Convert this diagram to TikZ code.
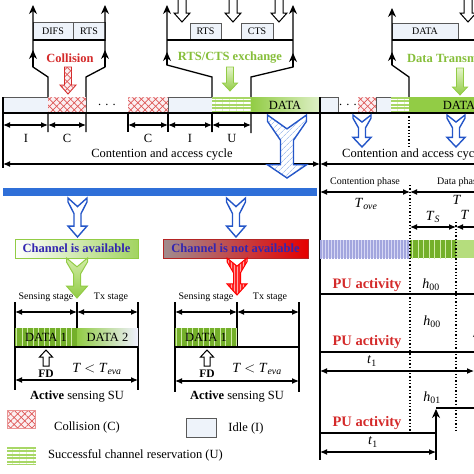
\documentclass[tikz,border=0pt]{standalone}
\usepackage{fontspec}
\setmainfont{Liberation Serif}
\usetikzlibrary{arrows.meta,patterns.meta}
\definecolor{grn}{HTML}{92CC45}
\definecolor{dgrn}{HTML}{74B02A}
\definecolor{lgrn}{HTML}{D2ECA8}
\definecolor{ugrn}{HTML}{A8D766}
\definecolor{tgrn}{HTML}{86BE3A}
\definecolor{idle}{HTML}{EEF3FA}
\definecolor{cred}{HTML}{D42A2A}
\definecolor{pinkbg}{HTML}{FBEFF1}
\definecolor{bblue}{HTML}{2F6FD8}
\definecolor{aoutl}{HTML}{2456C8}
\definecolor{chtext}{HTML}{3326B0}
\definecolor{lavL}{HTML}{D6D8F4}
\definecolor{lavD}{HTML}{A2A6DE}
\definecolor{nagray}{HTML}{A08C8E}
\newcommand\myfs[1]{\fontsize{#1}{#1}\selectfont}
\newcommand\mvar[2]{\textit{#1}\textsubscript{\textit{#2}}}
% chevron arrow: x, ytop, width, height, shaft width, head start fraction, style
\newcommand\chevar[7]{%
  \draw[#7] ({#1-#3/2},{#2}) -- ({#1},{#2+0.22*#4}) -- ({#1+#3/2},{#2}) -- ({#1+#3/2},{#2+0.1*#4})
  -- ({#1+#5/2},{#2+0.4*#4}) -- ({#1+#5/2},{#2+#6*#4}) -- ({#1+#3/2},{#2+#6*#4}) -- ({#1},{#2+#4})
  -- ({#1-#3/2},{#2+#6*#4}) -- ({#1-#5/2},{#2+#6*#4}) -- ({#1-#5/2},{#2+0.4*#4}) -- ({#1-#3/2},{#2+0.1*#4}) -- cycle;}
% simple arrow: x, ytail, ytip, head width, shaft width, head length (signed), style
\newcommand\sarr[7]{%
  \draw[#7] ({#1-#5/2},{#2}) -- ({#1-#5/2},{#3-#6}) -- ({#1-#4/2},{#3-#6}) -- ({#1},{#3})
  -- ({#1+#4/2},{#3-#6}) -- ({#1+#5/2},{#3-#6}) -- ({#1+#5/2},{#2}) -- cycle;}
\begin{document}
\begin{tikzpicture}[x=1pt,y=-1pt,
  line/.style={line width=1.3pt},
  dimarr/.style={line width=1.1pt,{Latex[length=7pt,width=6pt]}-{Latex[length=7pt,width=6pt]}},
  uparr/.style={line width=1.3pt,-{Stealth[length=9pt,width=8pt]}},
  box/.style={draw=gray!70!black,fill=idle,line width=0.6pt},
  lbl/.style={font=\myfs{12.5},inner sep=0pt},
  sm/.style={font=\myfs{10},inner sep=0pt},
  pu/.style={font=\myfs{14.5}\bfseries,text=cred,inner sep=0pt},
  mth/.style={font=\myfs{14},inner sep=0pt},
  collfill/.style={preaction={fill=pinkbg},pattern={Lines[angle=45,distance=5pt,line width=.7pt]},pattern color=cred!80,
     postaction={pattern={Lines[angle=-45,distance=5pt,line width=.7pt]},pattern color=cred!80}},
  ufill/.style={preaction={fill=ugrn},pattern={Lines[angle=0,distance=3.5pt,line width=1.2pt]},pattern color=white},
  stripefill/.style={preaction={fill=dgrn},pattern={Lines[angle=90,distance=5.5pt,line width=.8pt]},pattern color=lgrn},
  lavfill/.style={preaction={fill=lavL},pattern={Lines[angle=90,distance=3pt,line width=1.4pt]},pattern color=lavD},
  hatchblue/.style={preaction={fill=white},pattern={Lines[angle=45,distance=4pt,line width=.8pt]},pattern color=bblue!40},
  hollow/.style={draw=black,fill=white,line width=1pt},
  blueh/.style={draw=aoutl,fill=white,line width=1.4pt}
]
\useasboundingbox (0,0) rectangle (474,474);
\clip (0,0) rectangle (474,474);

% ---------- top hollow arrows ----------
\sarr{182}{-5}{22}{16}{8}{9}{hollow}
\sarr{233}{-5}{22}{16}{8}{9}{hollow}
\sarr{279}{-5}{22}{16}{8}{9}{hollow}
\sarr{468}{-5}{22}{16}{8}{9}{hollow}

% ---------- group 1 (DIFS/RTS) ----------
\draw[box] (33,22) rectangle (73,40);
\draw[box] (73,22) rectangle (105,40);
\node[sm] (difs) at (53,31) {DIFS};
\node[sm] (rts1) at (89,31) {RTS};
\draw[line] (33,40) -- (105,40);
\draw[uparr] (48,132) -- (48,77) -- (33,67) -- (33,5);
\draw[uparr] (33,67) -- (33,50);
\draw[uparr] (86,132) -- (86,77) -- (105,67) -- (105,5);
\draw[uparr] (105,67) -- (105,50);
\node[lbl,font=\myfs{12.5}\bfseries,text=cred] (coll) at (70,58) {Collision};
\sarr{68}{67}{94}{16}{7}{9}{draw=cred,line width=0.9pt,collfill}

% ---------- group 2 (RTS/CTS) ----------
\draw[box] (190,23) rectangle (221,40);
\draw[box] (241,23) rectangle (273,40);
\node[sm] (rts2) at (205.5,31.5) {RTS};
\node[sm] (cts) at (257,31.5) {CTS};
\draw[line] (167,40) -- (293,40);
\draw[uparr] (212,132) -- (212,77) -- (167,65) -- (167,5);
\draw[uparr] (167,65) -- (167,52);
\draw[uparr] (251,133) -- (251,77) -- (293,67) -- (293,5);
\draw[uparr] (293,67) -- (293,53);
\node[lbl,font=\myfs{12.5}\bfseries,text=tgrn] (rtscts) at (230,58) {RTS/CTS exchange};
\sarr{230}{67}{91}{15}{7}{8}{draw=grn,line width=0.8pt,top color=lgrn!60!white,bottom color=grn}

% ---------- group 3 (DATA) ----------
\draw[box] (392,23) rectangle (458,40);
\node[sm] (data3) at (425,31.5) {DATA};
\draw[line] (392,40) -- (480,40);
\draw[uparr] (409,97) -- (409,77) -- (392,65) -- (392,8);
\draw[uparr] (392,65) -- (392,52);
\node[lbl,font=\myfs{12.5}\bfseries,text=tgrn,anchor=west] (dtx) at (407,58) {Data Transmission};
\sarr{460}{68}{95}{15}{7}{8}{draw=grn,line width=0.8pt,top color=lgrn!60!white,bottom color=grn}

% ---------- channel bar ----------
\draw[box] (3,97) rectangle (48,113);
\path[collfill] (48,97) rectangle (86,113);
\node[lbl] (dots1) at (107,105) {. . .};
\path[collfill] (128,97) rectangle (168,113);
\draw[box] (168,97) rectangle (212,113);
\path[ufill] (212,97) rectangle (251,113);
\shade[left color=grn,middle color=grn,right color=grn!30!white] (251,97) rectangle (320,113);
\node[lbl] (data1) at (285,105) {DATA};
\draw[box] (320,97) rectangle (338,113);
\node[lbl] (dots2) at (348,105) {. . .};
\path[collfill] (358,97) rectangle (376,113);
\draw[box] (376,97) rectangle (391,113);
\path[ufill] (391,97) rectangle (409,113);
\fill[grn] (409,97) rectangle (480,113);
\node[lbl] (data2) at (459,105) {DATA};
\draw[line] (3,113) -- (480,113);
\draw[line] (3,97) -- (3,168);
\foreach \x in {128,168,212} \draw[line] (\x,113) -- (\x,132);
\draw[line,dotted] (409,113) -- (409,147);

% segment dimensions
\draw[dimarr] (3,125) -- (48,125);
\draw[dimarr] (48,125) -- (86,125);
\draw[dimarr] (128,125) -- (168,125);
\draw[dimarr] (168,125) -- (212,125);
\draw[dimarr] (212,125) -- (251,125);
\node[lbl] (lI1) at (26,138) {I};
\node[lbl] (lC1) at (67,138) {C};
\node[lbl] (lC2) at (148,138) {C};
\node[lbl] (lI2) at (190,138) {I};
\node[lbl] (lU) at (232,138) {U};

% contention and access cycle
\draw[dimarr] (3,164) -- (320,164);
\draw[line width=1.1pt,{Latex[length=7pt,width=6pt]}-] (320,164) -- (480,164);
\node[lbl] (cyc1) at (162,155) {Contention and access cycle};
\node[lbl,anchor=west] (cyc2) at (342,155) {Contention and access cycle};

% blue arrows below the bar
\chevar{287}{115}{39}{63}{13}{0.79}{draw=aoutl,line width=1.4pt,hatchblue}
\chevar{362}{115}{18}{32}{7}{0.7}{blueh}
\chevar{456}{115}{18}{32}{7}{0.7}{blueh}

% blue bar
\fill[bblue] (3,188) rectangle (317,196);
\chevar{77.5}{198}{19}{39}{7}{0.72}{blueh}
\chevar{236}{198}{19}{39}{7}{0.72}{blueh}

% channel boxes
\draw[draw=grn,line width=1pt,left color=white,right color=grn!85] (15,239) rectangle (138,258);
\node[lbl,font=\myfs{12.5}\bfseries,text=chtext] (avail) at (76.5,248.5) {Channel is available};
\draw[draw=cred!85!black,line width=1pt,left color=nagray,right color=red!90!black] (163,239) rectangle (308,258);
\node[lbl,font=\myfs{12.5}\bfseries,text=chtext] (navail) at (235.5,248.5) {Channel is not available};
\chevar{77}{258}{21}{40}{7}{0.7}{draw=grn,line width=1pt,top color=lgrn,bottom color=grn}
\chevar{237}{258}{20}{37}{7}{0.7}{draw=red,line width=1pt,preaction={fill=red!85},pattern={Lines[angle=90,distance=3pt,line width=.6pt]},pattern color=red!35!white}

% ---------- left sensing SU ----------
\node[sm] (ss1) at (46,297) {Sensing stage};
\node[sm] (tx1) at (111,297) {Tx stage};
\draw[line] (15,302) -- (15,390);
\draw[line] (77,302) -- (77,347);
\draw[line] (138,302) -- (138,390);
\draw[dimarr] (15,312) -- (77,312);
\draw[dimarr] (77,312) -- (138,312);
\path[stripefill] (15,328) rectangle (77,347);
\shade[left color=grn,right color=blue!6!white] (77,328) rectangle (138,347);
\node[lbl] (d11) at (46,337.5) {DATA 1};
\node[lbl] (d12) at (107.5,337.5) {DATA 2};
\draw[line] (15,347) -- (138,347);
\sarr{46}{366}{350}{13}{6}{-7}{hollow}
\node[lbl,font=\myfs{11.5}\bfseries] (fd1) at (46,374) {FD};
\node[mth] (tt1) at (97,369) {\textit{T} $<$ \mvar{T}{eva}};
\draw[dimarr] (15,380) -- (138,380);
\node[lbl] (as1) at (77,397) {\textbf{Active} sensing SU};

% ---------- middle sensing SU ----------
\node[sm] (ss2) at (206,297) {Sensing stage};
\node[sm] (tx2) at (270,297) {Tx stage};
\draw[line] (175,302) -- (175,392);
\draw[line] (237,302) -- (237,347);
\draw[line] (299,302) -- (299,392);
\draw[dimarr] (175,312) -- (237,312);
\draw[dimarr] (237,312) -- (299,312);
\path[stripefill] (175,328) rectangle (237,347);
\node[lbl] (d21) at (206,337.5) {DATA 1};
\draw[line] (175,347) -- (299,347);
\sarr{207}{366}{350}{13}{6}{-7}{hollow}
\node[lbl,font=\myfs{11.5}\bfseries] (fd2) at (207,374) {FD};
\node[mth] (tt2) at (257,369) {\textit{T} $<$ \mvar{T}{eva}};
\draw[dimarr] (175,381) -- (299,381);
\node[lbl] (as2) at (237,397) {\textbf{Active} sensing SU};

% ---------- legend ----------
\path[collfill] (7,410) rectangle (35,428);
\draw[cred!50,line width=0.4pt] (7,410) rectangle (35,428);
\node[lbl] (lgc) at (87,427) {Collision (C)};
\draw[box] (186,418) rectangle (216,437);
\node[lbl] (lgi) at (246,428) {Idle (I)};
\path[ufill] (7,447) rectangle (36,465);
\node[lbl,anchor=west] (lgu) at (48,455) {Successful channel reservation (U)};

% ---------- right panel ----------
\draw[line] (320,97) -- (320,460);
\node[sm] (cph) at (365,182) {Contention phase};
\node[sm,anchor=west] (dph) at (437,182) {Data phase};
\draw[dimarr] (320,192) -- (410,192);
\draw[line width=1.1pt,{Latex[length=7pt,width=6pt]}-] (410,192) -- (480,192);
\node[mth] (tove) at (366,204) {\mvar{T}{ove}};
\node[mth] (tdat) at (457,200) {\textit{T}};
\node[mth] (ts) at (433,217) {\mvar{T}{S}};
\node[mth] (tx) at (465,215) {\textit{T}};
\draw[dimarr] (410,227) -- (456,227);
\draw[line width=1.1pt,{Latex[length=7pt,width=6pt]}-] (456,227) -- (480,227);
\path[lavfill] (320,240) rectangle (410,258);
\path[stripefill] (410,240) rectangle (456,258);
\fill[ugrn!85!white] (456,240) rectangle (480,258);
\draw[line width=1.3pt,dotted] (410,185) -- (410,435);
\draw[line width=1.3pt,dotted] (456,222) -- (456,433);

\node[pu] (pu1) at (367,285) {PU activity};
\node[mth] (h1) at (431,285) {\textit{h}\textsubscript{00}};
\draw[line] (320,294) -- (480,294);

\node[mth] (h2) at (432,322) {\textit{h}\textsubscript{00}};
\draw[uparr] (477,352) -- (477,328);
\node[pu] (pu2) at (367,342) {PU activity};
\draw[line] (320,352) -- (480,352);
\node[mth] (t1a) at (372,361) {\textit{t}\textsubscript{1}};
\draw[line width=1.1pt,{Latex[length=7pt,width=6pt]}-{Latex[length=7pt,width=6pt]}] (320,371) -- (474,371);

\node[mth] (h3) at (432,398) {\textit{h}\textsubscript{01}};
\node[pu] (pu3) at (367,423) {PU activity};
\draw[line] (320,433) -- (436,433);
\draw[uparr] (436,433) -- (436,409);
\draw[line] (436,408) -- (480,408);
\draw[line] (436,433) -- (436,460);
\node[mth] (t1b) at (373,442) {\textit{t}\textsubscript{1}};
\draw[dimarr] (320,452) -- (436,452);
\end{tikzpicture}
\end{document}
